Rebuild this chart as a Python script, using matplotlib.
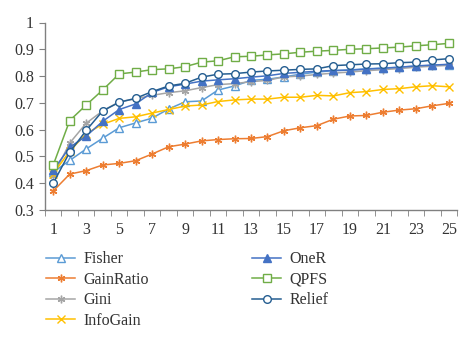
import matplotlib.pyplot as plt
from matplotlib.ticker import FormatStrFormatter

plt.rcParams['font.family'] = ['Liberation Serif', 'DejaVu Serif']

# number of selected features
k = list(range(1, 26))

fisher = [0.441, 0.485, 0.528, 0.568, 0.607, 0.625, 0.643, 0.677, 0.704, 0.707,
          0.748, 0.763, 0.784, 0.788, 0.797, 0.807, 0.815, 0.820, 0.823, 0.827,
          0.830, 0.833, 0.837, 0.840, 0.843]
gainratio = [0.371, 0.434, 0.447, 0.468, 0.474, 0.484, 0.509, 0.536, 0.546, 0.558,
             0.563, 0.566, 0.567, 0.574, 0.596, 0.607, 0.615, 0.639, 0.651, 0.653,
             0.665, 0.673, 0.678, 0.689, 0.698]
gini = [0.428, 0.550, 0.624, 0.670, 0.704, 0.715, 0.728, 0.738, 0.745, 0.757,
        0.768, 0.772, 0.779, 0.784, 0.797, 0.800, 0.806, 0.811, 0.815, 0.820,
        0.824, 0.828, 0.833, 0.837, 0.840]
infogain = [0.435, 0.520, 0.585, 0.620, 0.642, 0.648, 0.662, 0.675, 0.688, 0.692,
            0.705, 0.711, 0.714, 0.714, 0.721, 0.721, 0.728, 0.726, 0.738, 0.742,
            0.750, 0.753, 0.760, 0.764, 0.760]
oner = [0.449, 0.534, 0.576, 0.631, 0.675, 0.696, 0.739, 0.760, 0.770, 0.781,
        0.786, 0.790, 0.796, 0.801, 0.810, 0.814, 0.818, 0.821, 0.822, 0.826,
        0.829, 0.833, 0.838, 0.841, 0.844]
qpfs = [0.468, 0.634, 0.692, 0.748, 0.808, 0.815, 0.824, 0.827, 0.835, 0.852,
        0.857, 0.872, 0.874, 0.879, 0.883, 0.889, 0.893, 0.896, 0.900, 0.902,
        0.905, 0.908, 0.913, 0.917, 0.922]
relief = [0.400, 0.516, 0.597, 0.670, 0.702, 0.717, 0.742, 0.763, 0.773, 0.796,
          0.807, 0.809, 0.815, 0.819, 0.822, 0.825, 0.827, 0.839, 0.842, 0.845,
          0.846, 0.850, 0.852, 0.860, 0.865]

star = (6, 2, 0)
series = [
    ('Fisher', fisher, '#5B9BD5', '^', 'white'),
    ('GainRatio', gainratio, '#ED7D31', star, '#ED7D31'),
    ('Gini', gini, '#A5A5A5', star, '#A5A5A5'),
    ('InfoGain', infogain, '#FFC000', 'x', '#FFC000'),
    ('OneR', oner, '#4472C4', '^', '#4472C4'),
    ('QPFS', qpfs, '#70AD47', 's', 'white'),
    ('Relief', relief, '#255E91', 'o', 'white'),
]

fig = plt.figure(figsize=(4.74, 3.38), dpi=100)
ax = fig.add_axes([45 / 474, 1 - 210 / 338, 412 / 474, 187.5 / 338])

for name, vals, col, mk, fc in series:
    ax.plot(k, vals, color=col, lw=1.1, marker=mk, markersize=5.5,
            markerfacecolor=fc, markeredgecolor=col, markeredgewidth=1.0,
            label=name)

ax.set_xlim(0.5, 25.5)
ax.set_ylim(0.3, 1.0)
ax.set_yticks([0.3, 0.4, 0.5, 0.6, 0.7, 0.8, 0.9, 1.0])
ax.yaxis.set_major_formatter(FormatStrFormatter('%g'))
ax.set_xticks(range(1, 26, 2))
ax.set_xticks([i + 0.5 for i in range(0, 26)], minor=True)

for s in ['top', 'right']:
    ax.spines[s].set_visible(False)
for s in ['left', 'bottom']:
    ax.spines[s].set_color('#808080')
    ax.spines[s].set_linewidth(1.0)

ax.tick_params(axis='x', which='major', length=0, pad=9, labelsize=11.5, colors='#333333')
ax.tick_params(axis='x', which='minor', length=4, color='#808080', direction='out')
ax.tick_params(axis='y', length=4, color='#808080', direction='out', labelsize=11.5,
               labelcolor='#333333', pad=4)

fig.legend(loc='upper left', bbox_to_anchor=(32 / 474, 1 - 237 / 338), ncol=2,
           frameon=False, fontsize=11.5, handlelength=1.8, columnspacing=6.5,
           labelspacing=0.28, handletextpad=0.5, labelcolor='#333333')

fig.savefig('out.png', dpi=100)
